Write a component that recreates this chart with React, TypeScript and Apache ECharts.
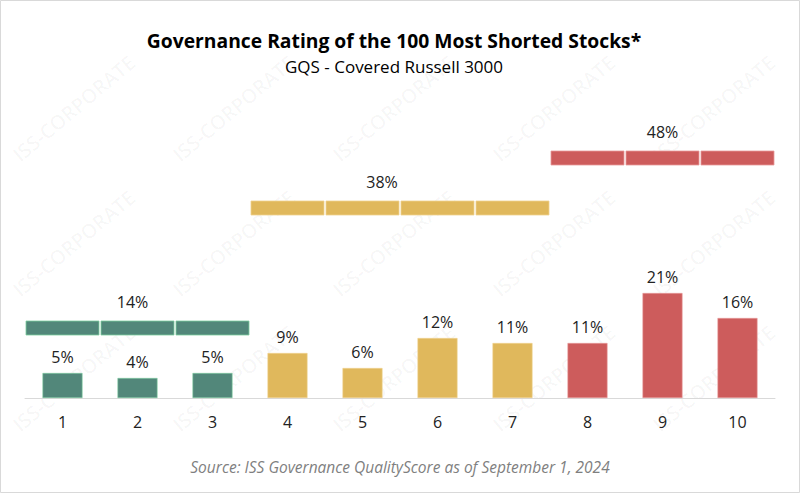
import React, { useEffect, useRef } from "react";
import * as echarts from "echarts";

const categories = ["1", "2", "3", "4", "5", "6", "7", "8", "9", "10"];
const shares = [5, 4, 5, 9, 6, 12, 11, 11, 21, 16];
const groupOfCategory = [0, 0, 0, 1, 1, 1, 1, 2, 2, 2];
const groupTotals = [14, 38, 48];
const groupLabels = ["14%", "38%", "48%"];
const groupColors = ["#52877a", "#e0b85c", "#cd5c5c"];
const groupBorders = ["#7ccf9f", "#f0d28e", "#e89a9a"];
const labelOffsets = [-5, -18, 0];

const titleText = "Governance Rating of the 100 Most Shorted Stocks*";
const subtitleText = "GQS - Covered Russell 3000";
const sourceText = "Source: ISS Governance QualityScore as of September 1, 2024";
const watermarkText = "ISS-CORPORATE";

const FONT = "'Open Sans', 'Noto Sans', sans-serif";

export default function App() {
  const ref = useRef<HTMLDivElement>(null);
  useEffect(() => {
    if (!ref.current) return;
    const chart = echarts.init(ref.current, undefined, { renderer: "svg" });

    const groupFirst: number[] = [];
    const groupLast: number[] = [];
    groupOfCategory.forEach((g, i) => {
      if (groupFirst[g] === undefined) groupFirst[g] = i;
      groupLast[g] = i;
    });

    const watermarks: any[] = [];
    for (let r = 0; r < 3; r++) {
      for (let c = 0; c < 5; c++) {
        watermarks.push({
          type: "text",
          x: 22 + c * 160,
          y: 165 + r * 135,
          rotation: (40 * Math.PI) / 180,
          silent: true,
          z: -10,
          style: {
            text: watermarkText,
            fill: "rgba(0,0,0,0.04)",
            font: `600 20px ${FONT}`,
            verticalAlign: "bottom",
          },
        });
      }
    }

    chart.setOption({
      animation: false,
      backgroundColor: "#ffffff",
      title: [
        {
          text: sourceText,
          left: "center",
          top: 454,
          textStyle: {
            fontFamily: FONT,
            fontSize: 15.5,
            fontWeight: "normal",
            fontStyle: "italic",
            color: "#7f7f7f",
          },
        },
      ],
      graphic: [
        ...watermarks,
        {
          type: "text",
          x: 394,
          y: 40,
          silent: true,
          style: {
            text: titleText,
            fill: "#000",
            font: `bold 19.3px ${FONT}`,
            align: "center",
            verticalAlign: "middle",
          },
        },
        {
          type: "text",
          x: 394,
          y: 66,
          silent: true,
          style: {
            text: subtitleText,
            fill: "#000",
            font: `17px ${FONT}`,
            align: "center",
            verticalAlign: "middle",
          },
        },
        {
          type: "rect",
          shape: { x: 0.5, y: 0.5, width: 799, height: 492 },
          silent: true,
          style: { fill: "none", stroke: "#d9d9d9", lineWidth: 1 },
        },
      ],
      grid: { left: 25, right: 25, top: 148, bottom: 95 },
      xAxis: {
        type: "category",
        data: categories,
        axisLine: { lineStyle: { color: "#d9d9d9", width: 1 } },
        axisTick: { show: false },
        axisLabel: { fontFamily: FONT, fontSize: 16, color: "#222", margin: 16 },
      },
      yAxis: { type: "value", min: 0, max: 50, show: false, splitLine: { show: false } },
      series: [
        {
          type: "bar",
          barWidth: 40,
          data: shares.map((v, i) => ({
            value: v,
            itemStyle: {
              color: groupColors[groupOfCategory[i]],
              borderColor: groupBorders[groupOfCategory[i]],
              borderWidth: 0.6,
            },
          })),
          label: {
            show: true,
            position: "top",
            distance: 8,
            formatter: "{c}%",
            fontFamily: FONT,
            fontSize: 16,
            color: "#222",
          },
        },
        {
          type: "custom",
          data: categories.map((_, i) => [i, groupTotals[groupOfCategory[i]], groupOfCategory[i]]),
          renderItem: (params: any, api: any) => {
            const idx = api.value(0);
            const val = api.value(1);
            const g = api.value(2);
            const pt = api.coord([idx, val]);
            const band = api.size([1, 0])[0];
            const h = 14;
            const children: any[] = [
              {
                type: "rect",
                shape: { x: pt[0] - band / 2 + 1, y: pt[1] - h / 2, width: band - 2, height: h },
                style: { fill: groupColors[g], stroke: groupBorders[g], lineWidth: 0.8 },
              },
            ];
            if (idx === groupFirst[g]) {
              const a = api.coord([groupFirst[g], val]);
              const b = api.coord([groupLast[g], val]);
              children.push({
                type: "text",
                x: (a[0] + b[0]) / 2 + labelOffsets[g],
                y: pt[1] - h / 2 - 19,
                style: {
                  text: groupLabels[g],
                  fill: "#222",
                  font: `16px ${FONT}`,
                  align: "center",
                  verticalAlign: "middle",
                },
              });
            }
            return { type: "group", children };
          },
        },
      ],
    });
    return () => chart.dispose();
  }, []);
  return (
    <div
      ref={ref}
      style={{ position: "fixed", left: 0, top: 0, width: 800, height: 493 }}
    />
  );
}
